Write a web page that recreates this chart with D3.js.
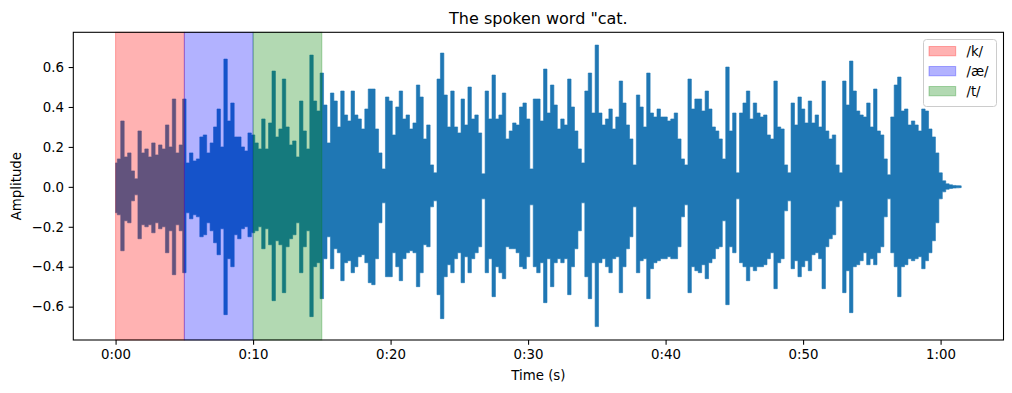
<!DOCTYPE html>
<html>
<head>
<meta charset="utf-8">
<script src="https://cdn.jsdelivr.net/npm/d3@7"></script>
<style>
  body { margin: 0; background: #fff; }
  svg { display: block; font-family: "DejaVu Sans", sans-serif; }
</style>
</head>
<body>
<svg id="chart" width="1012" height="393"></svg>
<script>
// ─── Data ───────────────────────────────────────────────────
const step = 0.25;

const upper = [
  0.12, 0.14, 0.33, 0.15, 0.17, 0.08, 0.04, 0.28, 0.17, 0.19, 0.15, 0.22, 0.16, 0.21, 0.19, 0.31, 0.20, 0.44, 0.17, 0.21,
  0.44, 0.12, 0.17, 0.13, 0.14, 0.25, 0.26, 0.17, 0.22, 0.30, 0.39, 0.20, 0.64, 0.33, 0.42, 0.25, 0.25, 0.20, 0.18, 0.27,
  0.26, 0.22, 0.19, 0.34, 0.19, 0.32, 0.58, 0.25, 0.29, 0.54, 0.30, 0.21, 0.23, 0.15, 0.43, 0.28, 0.19, 0.66, 0.43, 0.38,
  0.57, 0.41, 0.22, 0.47, 0.43, 0.30, 0.48, 0.36, 0.33, 0.48, 0.36, 0.34, 0.29, 0.39, 0.49, 0.49, 0.29, 0.17, 0.09, 0.45,
  0.43, 0.26, 0.40, 0.48, 0.34, 0.36, 0.29, 0.32, 0.51, 0.45, 0.24, 0.31, 0.11, 0.07, 0.54, 0.67, 0.46, 0.30, 0.48, 0.30,
  0.27, 0.44, 0.31, 0.50, 0.34, 0.36, 0.27, 0.065, 0.48, 0.34, 0.56, 0.34, 0.36, 0.47, 0.24, 0.28, 0.32, 0.31, 0.40, 0.42,
  0.34, 0.09, 0.44, 0.44, 0.33, 0.59, 0.37, 0.51, 0.41, 0.29, 0.34, 0.31, 0.54, 0.40, 0.28, 0.19, 0.12, 0.48, 0.57, 0.37,
  0.71, 0.37, 0.31, 0.34, 0.39, 0.29, 0.35, 0.53, 0.42, 0.31, 0.24, 0.11, 0.46, 0.40, 0.30, 0.57, 0.37, 0.35, 0.39, 0.35,
  0.35, 0.33, 0.34, 0.37, 0.24, 0.14, 0.11, 0.54, 0.39, 0.44, 0.44, 0.38, 0.48, 0.39, 0.30, 0.28, 0.24, 0.14, 0.60, 0.28,
  0.37, 0.07, 0.37, 0.42, 0.48, 0.34, 0.42, 0.37, 0.35, 0.36, 0.26, 0.24, 0.53, 0.30, 0.29, 0.11, 0.07, 0.42, 0.31, 0.45,
  0.39, 0.32, 0.43, 0.32, 0.36, 0.30, 0.53, 0.28, 0.24, 0.26, 0.11, 0.07, 0.53, 0.41, 0.63, 0.48, 0.38, 0.36, 0.35, 0.42,
  0.30, 0.49, 0.28, 0.26, 0.14, 0.06, 0.35, 0.51, 0.55, 0.38, 0.39, 0.31, 0.33, 0.31, 0.28, 0.39, 0.38, 0.29, 0.25, 0.17,
  0.07, 0.03, 0.015, 0.01, 0.007, 0.006, 0.005
];

const lower = [
  -0.13, -0.14, -0.32, -0.17, -0.18, -0.07, -0.04, -0.26, -0.19, -0.20, -0.19, -0.23, -0.18, -0.21, -0.20, -0.33, -0.22, -0.44, -0.19, -0.22,
  -0.43, -0.13, -0.16, -0.14, -0.15, -0.25, -0.24, -0.18, -0.22, -0.28, -0.34, -0.21, -0.64, -0.36, -0.40, -0.24, -0.26, -0.21, -0.20, -0.25,
  -0.23, -0.22, -0.20, -0.31, -0.21, -0.29, -0.57, -0.27, -0.29, -0.53, -0.30, -0.26, -0.24, -0.18, -0.43, -0.30, -0.22, -0.65, -0.40, -0.38,
  -0.56, -0.36, -0.25, -0.41, -0.31, -0.33, -0.47, -0.38, -0.37, -0.43, -0.40, -0.35, -0.34, -0.38, -0.48, -0.49, -0.36, -0.18, -0.08, -0.45,
  -0.45, -0.33, -0.40, -0.47, -0.36, -0.33, -0.32, -0.33, -0.50, -0.43, -0.29, -0.30, -0.10, -0.07, -0.54, -0.66, -0.45, -0.39, -0.43, -0.36,
  -0.33, -0.48, -0.35, -0.43, -0.36, -0.33, -0.30, -0.06, -0.43, -0.36, -0.55, -0.40, -0.43, -0.46, -0.30, -0.31, -0.31, -0.33, -0.40, -0.41,
  -0.35, -0.09, -0.40, -0.43, -0.38, -0.58, -0.36, -0.50, -0.38, -0.36, -0.38, -0.36, -0.54, -0.40, -0.31, -0.22, -0.08, -0.45, -0.56, -0.38,
  -0.70, -0.38, -0.36, -0.40, -0.43, -0.36, -0.35, -0.53, -0.40, -0.31, -0.25, -0.10, -0.43, -0.37, -0.36, -0.56, -0.41, -0.38, -0.37, -0.36,
  -0.36, -0.35, -0.36, -0.36, -0.30, -0.15, -0.09, -0.53, -0.40, -0.42, -0.43, -0.39, -0.46, -0.38, -0.36, -0.31, -0.30, -0.17, -0.59, -0.30,
  -0.33, -0.06, -0.38, -0.40, -0.47, -0.40, -0.42, -0.40, -0.40, -0.39, -0.36, -0.33, -0.51, -0.38, -0.36, -0.12, -0.07, -0.41, -0.37, -0.45,
  -0.40, -0.37, -0.42, -0.34, -0.33, -0.36, -0.51, -0.30, -0.26, -0.24, -0.10, -0.07, -0.53, -0.42, -0.63, -0.40, -0.39, -0.37, -0.33, -0.39,
  -0.36, -0.39, -0.33, -0.30, -0.15, -0.06, -0.33, -0.40, -0.55, -0.40, -0.39, -0.36, -0.37, -0.36, -0.35, -0.41, -0.37, -0.33, -0.27, -0.18,
  -0.06, -0.025, -0.012, -0.008, -0.006, -0.005, -0.004
];

// Phoneme regions (seconds)
const phonemes = ["/k/", "/æ/", "/t/"];
const phonemeStart = [0, 5, 10];
const phonemeEnd = [5, 10, 15];
const phonemeColors = ["red", "blue", "green"];

const xTicks = [0, 10, 20, 30, 40, 50, 60];
const yTicks = [-0.6, -0.4, -0.2, 0.0, 0.2, 0.4, 0.6];

// ─── Layout ─────────────────────────────────────────────────
const plot = { left: 73.3, top: 32.3, right: 1003.5, bottom: 340 };

const svg = d3.select("#chart");

const tMax = (upper.length - 1) * step;
const xPad = tMax * 0.05;
const x = d3.scaleLinear().domain([-xPad, tMax + xPad]).range([plot.left, plot.right]);
const y = d3.scaleLinear().domain([-0.767, 0.774]).range([plot.bottom, plot.top]);

const samples = upper.map((u, i) => ({ t: i * step, hi: u, lo: lower[i] }));

// ─── Waveform ───────────────────────────────────────────────
const g = svg.append("g");
g.append("defs").append("clipPath").attr("id", "clip")
  .append("rect")
  .attr("x", plot.left).attr("y", plot.top)
  .attr("width", plot.right - plot.left).attr("height", plot.bottom - plot.top);

// step curve gives the hard vertical edges of a dense waveform
const area = d3.area()
  .x(d => x(d.t))
  .y0(d => y(d.lo))
  .y1(d => y(d.hi))
  .curve(d3.curveStep);

g.append("path")
  .datum(samples)
  .attr("clip-path", "url(#clip)")
  .attr("d", area)
  .attr("fill", "#1f77b4")
  .attr("stroke", "#1f77b4")
  .attr("stroke-width", 0.6);

// Phoneme spans on top (alpha 0.3)
phonemes.forEach((p, i) => {
  g.append("rect")
    .attr("x", x(phonemeStart[i]))
    .attr("y", plot.top)
    .attr("width", x(phonemeEnd[i]) - x(phonemeStart[i]))
    .attr("height", plot.bottom - plot.top)
    .attr("fill", phonemeColors[i])
    .attr("fill-opacity", 0.3)
    .attr("stroke", phonemeColors[i])
    .attr("stroke-opacity", 0.3)
    .attr("stroke-width", 1);
});

// ─── Axes ───────────────────────────────────────────────────
const fmtTime = s => `${Math.floor(s / 60)}:${String(s % 60).padStart(2, "0")}`;

const xAxis = svg.append("g")
  .attr("transform", `translate(0,${plot.bottom})`)
  .call(d3.axisBottom(x).tickValues(xTicks).tickFormat(fmtTime).tickSize(4.67).tickPadding(4.67).tickSizeOuter(0));

const yAxis = svg.append("g")
  .attr("transform", `translate(${plot.left},0)`)
  .call(d3.axisLeft(y).tickValues(yTicks).tickFormat(d3.format(".1f")).tickSize(4.67).tickPadding(4.67).tickSizeOuter(0));

[xAxis, yAxis].forEach(a => {
  a.select(".domain").remove();
  a.selectAll(".tick line").attr("stroke", "#000").attr("stroke-width", 1.07);
  a.selectAll(".tick text")
    .attr("fill", "#000")
    .style("font-size", "13.33px")
    .style("font-family", "'DejaVu Sans', sans-serif");
});

// Spines
svg.append("rect")
  .attr("x", plot.left).attr("y", plot.top)
  .attr("width", plot.right - plot.left).attr("height", plot.bottom - plot.top)
  .attr("fill", "none")
  .attr("stroke", "#000")
  .attr("stroke-width", 1.07);

// Labels
svg.append("text")
  .attr("x", (plot.left + plot.right) / 2).attr("y", 24)
  .attr("text-anchor", "middle")
  .style("font-size", "16px")
  .text("The spoken word \"cat.");

svg.append("text")
  .attr("x", (plot.left + plot.right) / 2).attr("y", 380)
  .attr("text-anchor", "middle")
  .style("font-size", "13.33px")
  .text("Time (s)");

svg.append("text")
  .attr("transform", `translate(21,${(plot.top + plot.bottom) / 2}) rotate(-90)`)
  .attr("text-anchor", "middle")
  .style("font-size", "13.33px")
  .text("Amplitude");

// ─── Legend ─────────────────────────────────────────────────
const legend = svg.append("g").attr("transform", "translate(923.5,39.5)");
legend.append("rect")
  .attr("width", 73).attr("height", 67)
  .attr("rx", 3)
  .attr("fill", "#fff").attr("fill-opacity", 0.8)
  .attr("stroke", "#cccccc").attr("stroke-width", 1);

phonemes.forEach((p, i) => {
  const row = legend.append("g").attr("transform", `translate(5.5,${7 + i * 20})`);
  row.append("rect")
    .attr("width", 26.7).attr("height", 9.3)
    .attr("fill", phonemeColors[i]).attr("fill-opacity", 0.3)
    .attr("stroke", phonemeColors[i]).attr("stroke-opacity", 0.3)
    .attr("stroke-width", 1);
  row.append("text")
    .attr("x", 37.4).attr("y", 9.5)
    .style("font-size", "13.33px")
    .text(p);
});
</script>
</body>
</html>
